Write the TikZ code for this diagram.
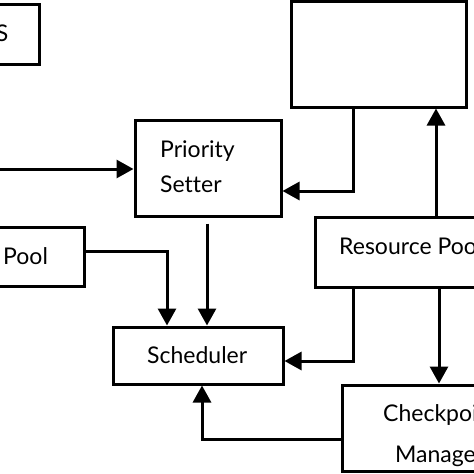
\documentclass[tikz,border=0pt]{standalone}
\usepackage{fontspec}
\setmainfont{Lato}[Ligatures=NoCommon]
\usetikzlibrary{arrows.meta}
\begin{document}
\begin{tikzpicture}[x=1pt,y=-1pt,
  box/.style={draw=black,line width=3pt,inner sep=0pt,rectangle},
  lbl/.style={anchor=base west,inner sep=0pt,font=\fontsize{23}{27}\selectfont},
  conn/.style={line width=3pt,-{Triangle[length=17pt,width=18pt]}}]
\useasboundingbox (0,0) rectangle (474,474);
\begin{scope}
\clip (0,0) rectangle (474,474);
% boxes
\node[box,minimum width=99pt,minimum height=60pt] (T) at (-10.5,34) {};
\node[box,minimum width=146pt,minimum height=96pt] (PS) at (208,168) {};
\node[box,minimum width=175pt,minimum height=106pt] (TR) at (378.5,54) {};
\node[box,minimum width=144pt,minimum height=59pt] (PL) at (12,256.5) {};
\node[box,minimum width=170pt,minimum height=57pt] (SC) at (198,355.5) {};
\node[box,minimum width=225pt,minimum height=70pt] (RP) at (427.5,252) {};
\node[box,minimum width=218pt,minimum height=86pt] (CM) at (451,428) {};
% labels
\node[lbl,anchor=base east] (tS) at (8.5,41) {S};
\node[lbl] (tP1) at (160,157) {Priority};
\node[lbl] (tP2) at (160,192) {Setter};
\node[lbl] (tPL) at (3,264) {Pool};
\node[lbl] (tSC) at (147,363) {Scheduler};
\node[lbl] (tRP) at (339,254) {Resource Pool};
\node[lbl] (tC1) at (383,421) {Checkpoint};
\node[lbl] (tC2) at (395,462) {Manager};
% connectors
\coordinate (in) at (-5,169);
\draw[conn] (in) -- (in -| PS.west);
\draw[conn] (TR.south -| 353,0) |- (PS.east |- 0,191);
\draw[conn] (RP.north -| 436,0) -- (TR.south -| 436,0);
\draw[conn] (PL.east |- 0,251) -| (SC.north -| 167,0);
\draw[conn,shorten <=6pt] (PS.south -| 207,0) -- (SC.north -| 207,0);
\draw[conn] (RP.south -| 353,0) |- (SC.east |- 0,361);
\draw[conn] (RP.south -| 439,0) -- (CM.north -| 439,0);
\draw[conn] (CM.west |- 0,439) -| (SC.south -| 202,0);
\end{scope}
\end{tikzpicture}
\end{document}
